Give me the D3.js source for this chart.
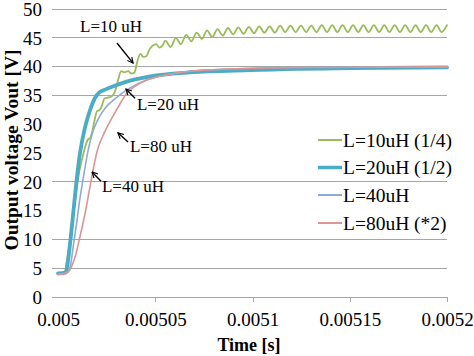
<!DOCTYPE html>
<html><head><meta charset="utf-8">
<script src="https://cdn.jsdelivr.net/npm/d3@7"></script>
<style>
html,body{margin:0;padding:0;background:#fff;} svg{display:block;}
svg text{font-family:"Liberation Serif","Times New Roman",Tinos,Times,"DejaVu Serif",serif;}
</style>
</head><body><svg id="c" width="474" height="356"></svg>
<script>
// ---- data ----
const xTicks = [0.005, 0.00505, 0.0051, 0.00515, 0.0052];
const xTickLabels = ["0.005", "0.00505", "0.0051", "0.00515", "0.0052"];
const yTicks = [0, 5, 10, 15, 20, 25, 30, 35, 40, 45, 50];
const yGrid = [0, 5, 10, 20, 35, 40, 45, 50];

const seriesNames = ["L=10uH (1/4)", "L=20uH (1/2)", "L=40uH", "L=80uH (*2)"];

const greenT = [0.0050000,0.0050031,0.0050046,0.0050062,0.0050077,0.0050093,0.0050108,0.0050124,0.0050139,0.0050155,
  0.0050165,0.0050175,0.0050186,0.0050201,0.0050212,0.0050222,0.0050240,0.0050255,0.0050275,0.0050294,
  0.0050309,0.0050325,0.0050340,0.0050361,0.0050376,0.0050392,0.0050407,0.0050423,0.0050438,0.0050454,
  0.0050469,0.0050485,0.0050505,0.0050521,0.0050536,
  0.0050552,0.0050579,0.0050606,0.0050632,0.0050659,0.0050686,0.0050713,0.0050740,0.0050766,0.0050793,
  0.0050820,0.0050847,0.0050874,0.0050900,0.0050927,0.0050954,0.0050981,0.0051008,0.0051034,0.0051061,
  0.0051088,0.0051115,0.0051142,0.0051168,0.0051195,0.0051222,0.0051249,0.0051276,0.0051302,0.0051329,
  0.0051356,0.0051383,0.0051410,0.0051436,0.0051463,0.0051490,0.0051517,0.0051544,0.0051570,0.0051597,
  0.0051624,0.0051651,0.0051678,0.0051704,0.0051731,0.0051758,0.0051785,0.0051812,0.0051838,0.0051865,
  0.0051892,0.0051919,0.0051946,0.0051972,0.0052000];
const greenV = [4.0,4.0,6.3,10,14,18,21.5,24,26,27.4,
  27.6,28.6,30.4,32.3,32.4,32.9,34.5,34.6,34.8,35.8,
  37.7,39.2,39.0,39.2,38.8,38.9,40.8,42.2,41.7,41.8,
  42.9,43.6,43.9,43.3,43.6,
  44.5,43.4,45.0,43.9,45.5,44.4,45.9,44.8,46.3,45.1,
  46.5,45.4,46.7,45.6,46.8,45.7,46.9,45.8,47.0,45.9,
  47.0,45.9,47.1,46.0,47.1,46.0,47.1,46.0,47.1,46.0,
  47.2,46.0,47.2,46.0,47.2,46.0,47.2,46.0,47.2,46.0,
  47.2,46.0,47.2,46.0,47.2,46.0,47.2,46.0,47.2,46.0,
  47.2,46.0,47.2,46.0,47.2];

const tealT = [0.0050000,0.0050041,0.0050052,0.0050072,0.0050093,0.0050113,0.0050139,0.0050165,0.0050191,0.0050211,
  0.0050242,0.0050278,0.0050345,0.0050474,0.0050680,0.0050990,0.0051505,0.0052000];
const tealV = [4.1,4.3,6.5,12.5,19.5,25,29.5,32.5,34.6,35.5,
  36.0,36.5,37.3,38.3,39.0,39.4,39.75,39.85];

const blueT = [0.0050000,0.0050041,0.0050062,0.0050077,0.0050098,0.0050113,0.0050129,0.0050155,0.0050180,0.0050211,
  0.0050247,0.0050289,0.0050330,0.0050371,0.0050459,0.0050562,0.0050680,0.0050887,0.0051247,0.0052000];
const blueV = [4.0,4.2,5.2,8.5,13.4,17.2,20.5,25.5,28.8,31.2,
  33,34.3,35.4,36.3,37.7,38.6,39.2,39.6,39.85,39.95];

const redT = [0.0050000,0.0050026,0.0050052,0.0050072,0.0050088,0.0050113,0.0050139,0.0050155,0.0050180,0.0050201,
  0.0050242,0.0050284,0.0050320,0.0050356,0.0050397,0.0050459,0.0050562,0.0050680,0.0050887,0.0051247,0.0052000];
const redV = [3.9,3.9,4.3,5.5,7,10.5,14.5,17.4,22,25.3,
  28.8,31.5,33.6,35.5,36.6,37.7,38.6,39.2,39.6,39.85,39.95];

// annotations (data coordinates)
const annText = ["L=10 uH", "L=20 uH", "L=80 uH", "L=40 uH"];
const annTextT = [0.0050113, 0.0050406, 0.0050370, 0.0050226];
const annTextV = [46.0, 32.5, 25.2, 18.2];
const annFromT = [0.0050303, 0.0050396, 0.0050360, 0.0050221];
const annFromV = [44.1, 34.5, 26.9, 20.1];
const annToT = [0.0050386, 0.0050349, 0.0050308, 0.0050175];
const annToV = [40.6, 36.1, 28.5, 21.7];

// ---- styles ----
const colors = ["#9bbb59", "#4bacc6", "#8eaadb", "#dd9593"];
const widths = [1.8, 3.8, 1.6, 1.6];

const svg = d3.select("#c");
const x = d3.scaleLinear().domain([0.0049969, 0.0052]).range([52, 447]);
const y = d3.scaleLinear().domain([0, 50]).range([297, 9]);

// gridlines
svg.append("g").selectAll("line").data(yGrid).join("line")
  .attr("x1", x.range()[0]).attr("x2", x.range()[1])
  .attr("y1", d => y(d)).attr("y2", d => y(d))
  .attr("stroke", "#a6a6a6").attr("stroke-width", 1).attr("shape-rendering", "crispEdges");

// x axis
const xa = svg.append("g").attr("transform", `translate(0,${y(0)})`)
  .call(d3.axisBottom(x).tickValues(xTicks).tickFormat((d, i) => xTickLabels[i]).tickSize(5).tickSizeOuter(0));
xa.attr("font-family", null).attr("font-size", null);
xa.select(".domain").attr("stroke", "#a6a6a6").attr("shape-rendering", "crispEdges");
xa.selectAll(".tick line").attr("stroke", "#a6a6a6").attr("shape-rendering", "crispEdges")
  .filter(d => d === 0.005).remove();
xa.selectAll(".tick text").attr("y", 29).attr("dy", 0)
  .attr("font-size", 19).attr("fill", "#000");

// y axis
const ya = svg.append("g").attr("transform", `translate(${x.range()[0]},0)`)
  .call(d3.axisLeft(y).tickValues(yTicks).tickSize(0).tickPadding(10));
ya.attr("font-family", null).attr("font-size", null);
ya.select(".domain").remove();
ya.selectAll(".tick text").attr("dy", "0.33em")
  .attr("font-size", 19).attr("fill", "#000");

// series
const series = [
  greenT.map((t, i) => [t, greenV[i]]),
  tealT.map((t, i) => [t, tealV[i]]),
  blueT.map((t, i) => [t, blueV[i]]),
  redT.map((t, i) => [t, redV[i]])
];
const line = d3.line().x(d => x(d[0])).y(d => y(d[1])).curve(d3.curveMonotoneX);
svg.append("g").selectAll("path").data(series).join("path")
  .attr("d", line).attr("fill", "none")
  .attr("stroke", (d, i) => colors[i]).attr("stroke-width", (d, i) => widths[i])
  .attr("stroke-linejoin", "round").attr("stroke-linecap", "round");

// legend
const legY = [140, 167.5, 195, 223];
const lg = svg.append("g");
seriesNames.forEach((name, i) => {
  lg.append("line").attr("x1", 318).attr("x2", 342).attr("y1", legY[i]).attr("y2", legY[i])
    .attr("stroke", colors[i]).attr("stroke-width", i === 1 ? 3.5 : 2);
  lg.append("text").attr("x", 343).attr("y", legY[i] + 6.5)
    .attr("font-size", 19.5).attr("fill", "#000").text(name);
});

// annotations
const defs = svg.append("defs");
defs.append("marker").attr("id", "ah").attr("viewBox", "0 0 10 10").attr("refX", 9).attr("refY", 5)
  .attr("markerWidth", 7).attr("markerHeight", 7).attr("markerUnits", "userSpaceOnUse").attr("orient", "auto")
  .append("path").attr("d", "M1,1 L9,5 L1,9").attr("fill", "none").attr("stroke", "#000").attr("stroke-width", 1.6);
const ag = svg.append("g");
annText.forEach((txt, i) => {
  ag.append("text").attr("x", x(annTextT[i])).attr("y", y(annTextV[i]))
    .attr("font-size", 17).attr("fill", "#000").text(txt);
  ag.append("line").attr("x1", x(annFromT[i])).attr("y1", y(annFromV[i]))
    .attr("x2", x(annToT[i])).attr("y2", y(annToV[i]))
    .attr("stroke", "#000").attr("stroke-width", 1.4).attr("marker-end", "url(#ah)");
});

// axis titles
svg.append("text").attr("x", 249).attr("y", 351).attr("text-anchor", "middle")
  .attr("font-weight", "bold").attr("font-size", 18).text("Time [s]");
svg.append("text").attr("transform", "translate(18,150) rotate(-90)").attr("text-anchor", "middle")
  .attr("font-weight", "bold").attr("font-size", 19.5).text("Output voltage Vout [V]");
</script></body></html>
